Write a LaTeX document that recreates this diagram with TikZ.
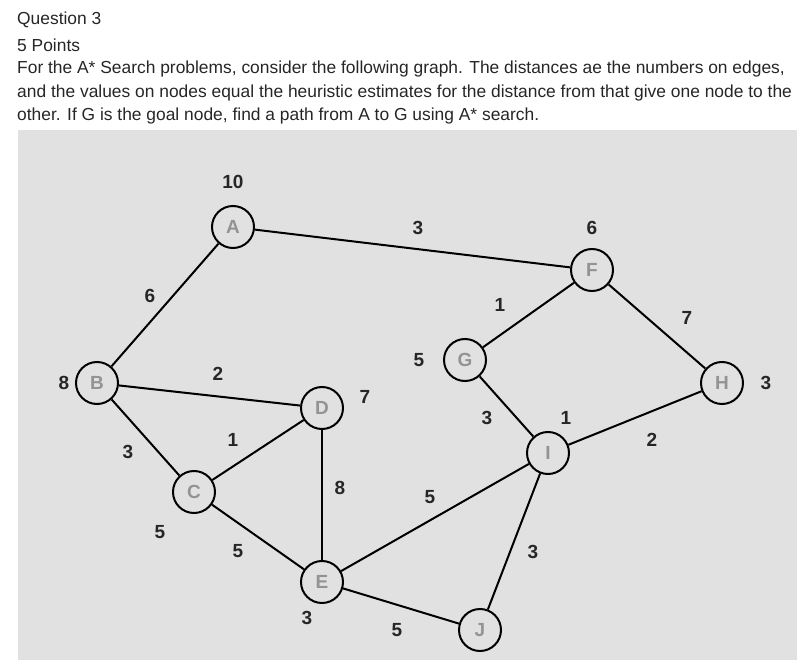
\documentclass[tikz,border=0pt]{standalone}
\usepackage{fontspec}
\setmainfont{Liberation Sans}
\begin{document}
\begin{tikzpicture}[x=1pt,y=-1pt,
  vtx/.style={circle,draw=black,line width=2pt,fill=bg,minimum size=42pt,inner sep=0pt,text=gray!85,font=\fontsize{19}{19}\selectfont\bfseries},
  lbl/.style={font=\fontsize{19}{19}\selectfont\bfseries,text=black!85},
  edge/.style={line width=2pt,black},
  txt/.style={anchor=west,font=\fontsize{17.4}{17.4}\selectfont,text=black!85,inner sep=0pt}]
\definecolor{bg}{HTML}{E1E1E1}
\useasboundingbox (0,0) rectangle (809,671);
\fill[bg] (18,130) rectangle (797,660);
\node[txt] (t1) at (17,20) {Question 3};
\node[txt] (t2) at (17,45) {5 Points};
\node[txt] (t3) at (17,69) {For the A* Search problems, consider the following graph. The distances ae the numbers on edges,};
\node[txt] (t4) at (17,93) {and the values on nodes equal the heuristic estimates for the distance from that give one node to the};
\node[txt] (t5) at (17,116) {other. If G is the goal node, find a path from A to G using A* search.};
\node[vtx] (A) at (233,227) {A};
\node[vtx] (F) at (592,270) {F};
\node[vtx] (G) at (465,360) {G};
\node[vtx] (B) at (97,383) {B};
\node[vtx] (H) at (722,383) {H};
\node[vtx] (D) at (322,408) {D};
\node[vtx] (I) at (548,453) {I};
\node[vtx] (C) at (194,492) {C};
\node[vtx] (E) at (322,582) {E};
\node[vtx] (J) at (480,630) {J};
\draw[edge] (A)--(F); \draw[edge] (A)--(B); \draw[edge] (F)--(G); \draw[edge] (F)--(H);
\draw[edge] (B)--(D); \draw[edge] (G)--(I); \draw[edge] (I)--(H); \draw[edge] (B)--(C);
\draw[edge] (C)--(D); \draw[edge] (D)--(E); \draw[edge] (E)--(I); \draw[edge] (C)--(E);
\draw[edge] (I)--(J); \draw[edge] (E)--(J);
\node[lbl] (hA) at (233,182) {10};
\node[lbl] (hF) at (592,228) {6};
\node[lbl] (hG) at (419,360) {5};
\node[lbl] (hB) at (64,383) {8};
\node[lbl] (hH) at (766,383) {3};
\node[lbl] (hD) at (365,397) {7};
\node[lbl] (hI) at (566,418) {1};
\node[lbl] (hC) at (160,532) {5};
\node[lbl] (hE) at (307,618) {3};
\node[lbl] (eAF) at (418,228) {3};
\node[lbl] (eAB) at (150,296) {6};
\node[lbl] (eFG) at (500,305) {1};
\node[lbl] (eFH) at (687,318) {7};
\node[lbl] (eBD) at (218,374) {2};
\node[lbl] (eGI) at (487,418) {3};
\node[lbl] (eIH) at (652,440) {2};
\node[lbl] (eBC) at (128,452) {3};
\node[lbl] (eCD) at (233,440) {1};
\node[lbl] (eDE) at (340,488) {8};
\node[lbl] (eEI) at (430,497) {5};
\node[lbl] (eCE) at (238,551) {5};
\node[lbl] (eIJ) at (533,552) {3};
\node[lbl] (eEJ) at (397,630) {5};
\end{tikzpicture}
\end{document}
